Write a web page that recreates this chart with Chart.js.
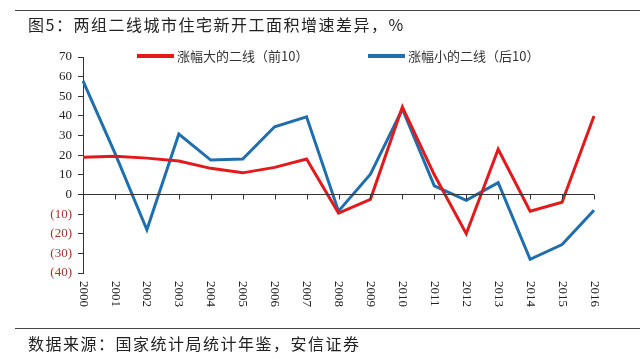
<!DOCTYPE html>
<html>
<head>
<meta charset="utf-8">
<script src="https://cdn.jsdelivr.net/npm/chart.js@4.4.1/dist/chart.umd.min.js"></script>
<style>
  html, body { margin: 0; padding: 0; background: #fff; }
  #wrap { position: relative; width: 640px; height: 360px; overflow: hidden; }
  #myChart { position: absolute; left: 0; top: 0; }
  .rule { position: absolute; left: 15px; right: 0; height: 0; border-top: 1.5px solid #444; }
  .note { position: absolute; left: 28px; font-family: "Noto Sans CJK SC", sans-serif; color: #222; font-size: 16px; letter-spacing: 1.5px; white-space: nowrap; }
</style>
</head>
<body>
<div id="wrap">
  <canvas id="myChart" width="640" height="360"></canvas>
  <div class="rule" style="top:10px"></div>
  <div class="note" style="top:12px">图5：两组二线城市住宅新开工面积增速差异，%</div>
  <div class="rule" style="top:328px"></div>
  <div class="note" style="top:331px">数据来源：国家统计局统计年鉴，安信证券</div>
</div>
<script>
const years = ["2000", "2001", "2002", "2003", "2004", "2005", "2006", "2007", "2008",
  "2009", "2010", "2011", "2012", "2013", "2014", "2015", "2016"];
const topTen = [19, 19.4, 18.5, 17, 13.3, 11, 13.8, 18, -9.5, -2.5, 44.5, 10, -20, 23, -8.5, -4, 40];
const bottomTen = [57.8, 21, -18, 30.8, 17.5, 18, 34.5, 39.5, -8.5, 10.3, 43.5, 4.4, -3, 6, -33, -25.5, -8];
const seriesNames = ["涨幅大的二线（前10）", "涨幅小的二线（后10）"];
const colors = ["#e3191c", "#1f6fae"];

// zero line, x ticks, rotated year labels and legend
const extras = {
  id: "extras",
  afterDraw(chart) {
    const ctx = chart.ctx;
    const xs = chart.scales.x;
    const ys = chart.scales.y;
    const y0 = ys.getPixelForValue(0);
    ctx.save();
    ctx.strokeStyle = "#333";
    ctx.lineWidth = 1;
    ctx.beginPath();
    ctx.moveTo(xs.getPixelForValue(0), Math.round(y0) + 0.5);
    ctx.lineTo(xs.getPixelForValue(years.length - 1), Math.round(y0) + 0.5);
    years.forEach((y, i) => {
      const px = Math.round(xs.getPixelForValue(i)) + 0.5;
      ctx.moveTo(px, y0);
      ctx.lineTo(px, y0 + 5);
    });
    ctx.stroke();

    ctx.fillStyle = "#222";
    ctx.font = "13px 'Liberation Serif', serif";
    ctx.textAlign = "left";
    ctx.textBaseline = "middle";
    years.forEach((y, i) => {
      ctx.save();
      ctx.translate(xs.getPixelForValue(i), chart.chartArea.bottom + 8);
      ctx.rotate(Math.PI / 2);
      ctx.fillText(y, 0, 0);
      ctx.restore();
    });

    const legend = [[137, 174, 177], [368, 405, 408]];
    ctx.font = "13px 'Noto Sans CJK SC', sans-serif";
    ctx.fillStyle = "#333";
    legend.forEach((l, i) => {
      ctx.strokeStyle = colors[i];
      ctx.lineWidth = 4;
      ctx.beginPath();
      ctx.moveTo(l[0], 56);
      ctx.lineTo(l[1], 56);
      ctx.stroke();
      ctx.fillText(seriesNames[i], l[2], 56);
    });
    ctx.restore();
  }
};

const ctx = document.getElementById("myChart").getContext("2d");
const myChart = new Chart(ctx, {
  type: "line",
  data: {
    labels: years,
    datasets: [
      { label: seriesNames[0], data: topTen, borderColor: colors[0], backgroundColor: colors[0], borderWidth: 3, pointRadius: 0, tension: 0, fill: false },
      { label: seriesNames[1], data: bottomTen, borderColor: colors[1], backgroundColor: colors[1], borderWidth: 3, pointRadius: 0, tension: 0, fill: false }
    ]
  },
  options: {
    responsive: false,
    animation: false,
    layout: { padding: { left: 0, right: 46, top: 57, bottom: 87 } },
    plugins: { legend: { display: false }, tooltip: { enabled: false } },
    scales: {
      x: { display: false, offset: false },
      y: {
        min: -40,
        max: 70,
        afterFit: s => { s.width = 83; },
        grid: { display: true, drawOnChartArea: false, drawTicks: true, tickLength: 5, color: "#333" },
        border: { display: true, color: "#333", width: 1 },
        ticks: {
          stepSize: 10,
          padding: 6,
          font: { family: "'Liberation Serif', serif", size: 13 },
          color: c => c.tick.value < 0 ? "#a8322f" : "#222",
          callback: v => v < 0 ? "(" + (-v) + ")" : v
        }
      }
    }
  },
  plugins: [extras]
});
</script>
</body>
</html>
